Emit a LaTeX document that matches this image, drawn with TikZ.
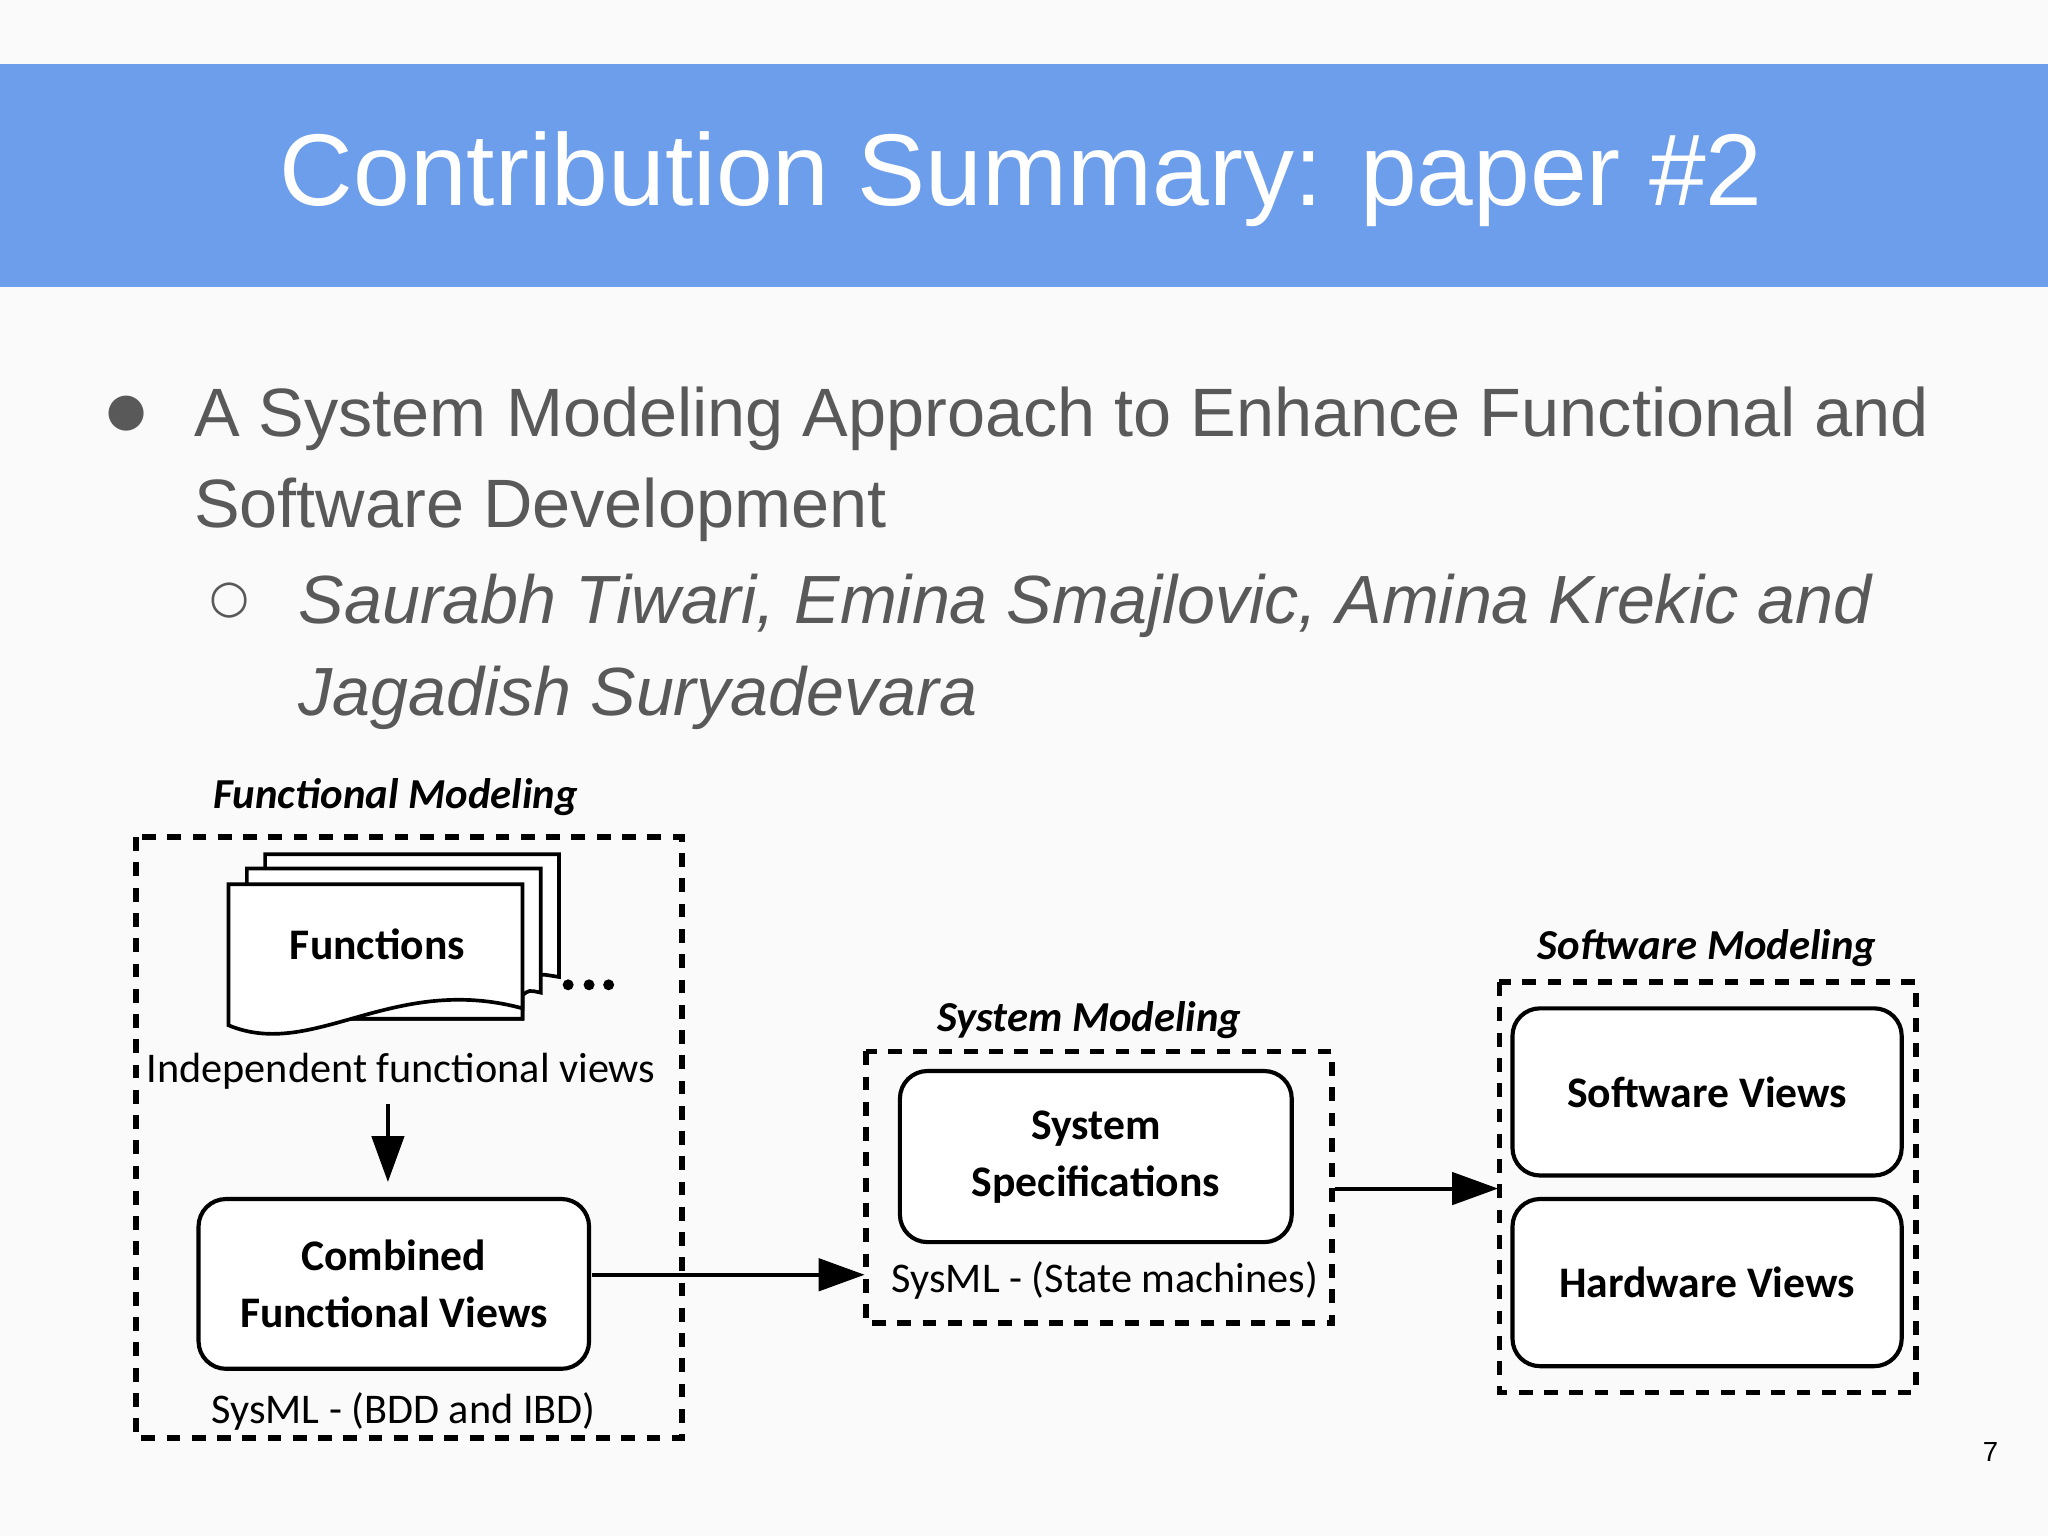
\documentclass[tikz,border=0pt]{standalone}
\usepackage{fontspec}
\setmainfont{Liberation Sans}
\newfontfamily\calfont{Carlito}
\newfontfamily\djfont{DejaVu Sans}
\usetikzlibrary{arrows.meta}
\definecolor{banner}{HTML}{6D9EEB}
\definecolor{txt}{HTML}{595959}
\tikzset{
 dbox/.style={draw,line width=1.2pt,dash pattern=on 3pt off 2.5pt},
 rbox/.style={draw,line width=0.9pt,rounded corners=6pt,fill=white},
 lbl/.style={font=\calfont\fontsize{9.3}{11}\selectfont\bfseries\itshape},
 bt/.style={font=\calfont\fontsize{9.5}{12.3}\selectfont\bfseries,align=center},
 nt/.style={font=\calfont\fontsize{9.2}{11}\selectfont},
 arr/.style={line width=0.9pt,-{Triangle[length=10pt,width=7pt]}},
 doc/.style={draw,line width=0.8pt,fill=white},
 slide/.style={text=txt,anchor=base west,inner sep=0,font=\fontsize{14.9}{18}\selectfont}
}
\begin{document}
\begin{tikzpicture}[x=0.01cm,y=-0.01cm]
\useasboundingbox (0,0) rectangle (1568,1176);
\fill[white!98!black] (0,0) rectangle (1568,1176);
\fill[banner] (0,49) rectangle (1568,220);
\node[text=white,font=\fontsize{22.2}{26}\selectfont] (title) at (782,137) {Contribution Summary: paper \#2};
% bullets
\node[text=txt,font=\djfont\fontsize{10}{12}\selectfont] (b1) at (97,317) {●};
\node[slide] (l1) at (148,334) {A System Modeling Approach to Enhance Functional and};
\node[slide] (l2) at (148,404) {Software Development};
\node[text=txt,font=\djfont\fontsize{10}{12}\selectfont] (b2) at (176,460) {○};
\node[slide,font=\fontsize{14.85}{18}\selectfont\itshape] (l3) at (228,477) {Saurabh Tiwari, Emina Smajlovic, Amina Krekic and};
\node[slide,font=\fontsize{14.85}{18}\selectfont\itshape] (l4) at (228,548) {Jagadish Suryadevara};
% functional modeling
\node[lbl] (flbl) at (303,610) {Functional Modeling};
\draw[dbox] (104,641) rectangle (522,1101);
\draw[doc] (203,654) -- (428,654) -- (428,748) .. controls (410,745) .. (400,752) -- (400,780) -- (203,780) -- cycle;
\draw[doc] (189,665) -- (414,665) -- (414,760) .. controls (405,758) .. (400,762) -- (400,780) -- (189,780) -- cycle;
\draw[doc] (175,677) -- (400,677) -- (400,772) .. controls (300,745) and (240,812) .. (175,785) -- cycle;
\node[bt] (fn) at (289,723) {Functions};
\foreach \x in {435,451,466} \fill (\x,754) circle (4.2);
\node[nt] (ind) at (307,820) {Independent functional views};
\draw[rbox] (152,918) rectangle (451,1048);
\node[bt] (cfvt) at (301.5,983) {Combined\\Functional Views};
\coordinate (cfvr) at (453,976);
\node[nt] (s1) at (309,1081) {SysML - (BDD and IBD)};
\draw[arr] (297,845) -- (297,905);
% system modeling
\node[lbl] (slbl) at (834,781) {System Modeling};
\draw[dbox] (663,805) rectangle (1020,1013);
\draw[rbox] (689,820) rectangle (989,951);
\node[bt] (sst) at (839,886) {System\\Specifications};
\node[nt] (s2) at (846,980) {SysML - (State machines)};
\coordinate (sysl) at (662,976);
\coordinate (sysr) at (1022,910);
\draw[arr] (cfvr) -- (sysl);
% software modeling
\node[lbl] (wlbl) at (1307,726) {Software Modeling};
\draw[dbox] (1148,752) rectangle (1467,1066);
\draw[rbox] (1158,772) rectangle (1456,900);
\draw[rbox] (1158,918) rectangle (1456,1046);
\node[bt] (swv) at (1307,836) {Software Views};
\node[bt] (hwv) at (1307,982) {Hardware Views};
\coordinate (swl) at (1147,910);
\draw[arr] (sysr) -- (swl);
\node[font=\fontsize{6}{7}\selectfont] (pg) at (1524,1112) {7};
\end{tikzpicture}
\end{document}
